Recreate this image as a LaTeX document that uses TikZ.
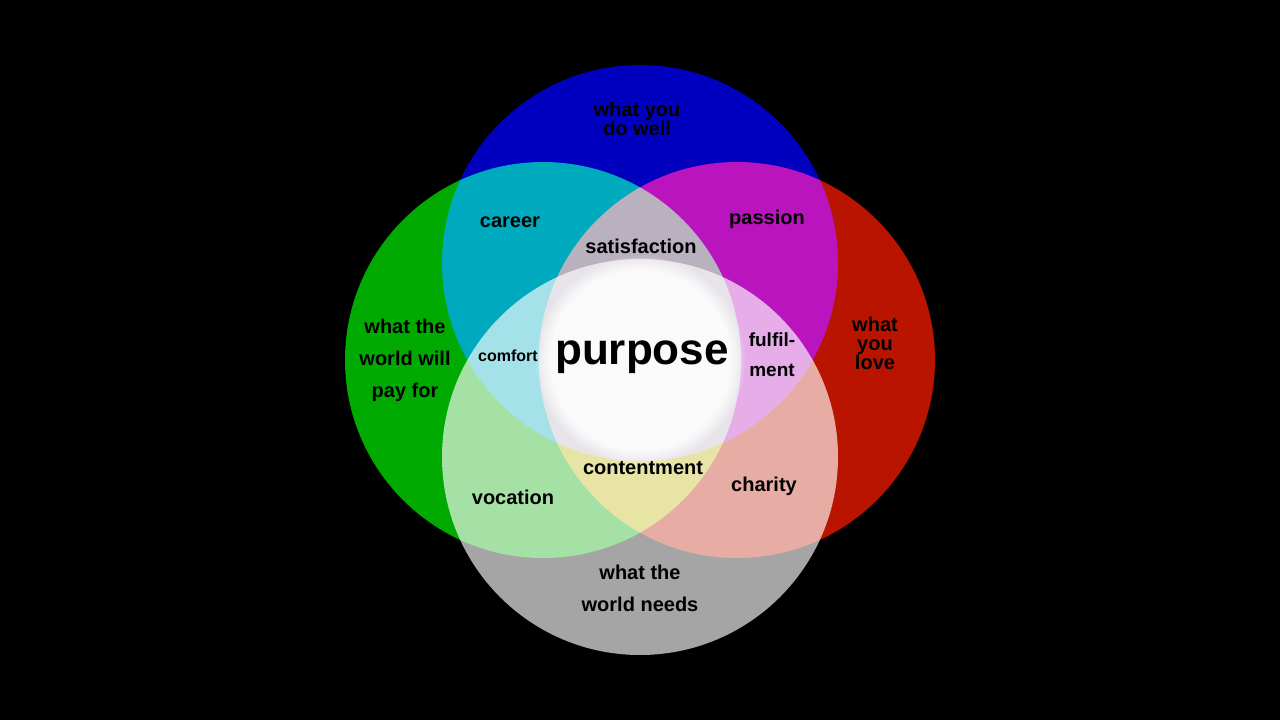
\documentclass[tikz,border=0pt]{standalone}
\usepackage{fontspec}
\setmainfont{Liberation Sans}
\usetikzlibrary{fadings}
\begin{document}
\begin{tikzpicture}[x=1pt,y=-1pt,
  lab/.style={font=\bfseries\fontsize{20}{32}\selectfont,align=center,text=black},
  tight/.style={font=\bfseries\fontsize{20}{19}\selectfont,align=center,text=black}]
\definecolor{cb}{RGB}{0,0,190}
\definecolor{cg}{RGB}{0,170,0}
\definecolor{cr}{RGB}{185,20,0}
\definecolor{cw}{RGB}{165,165,165}
\fill[black] (0,0) rectangle (1280,720);
\useasboundingbox (0,0) rectangle (1280,720);
\begin{scope}[blend group=screen]
\fill[cb] (640,263) circle (198);
\fill[cg] (543,360) circle (198);
\fill[cr] (737,360) circle (198);
\fill[cw] (640,457) circle (198);
\end{scope}
\fill[white,path fading=circle with fuzzy edge 15 percent,opacity=0.85] (640,360) circle (105);
\node[tight] (t1) at (637,119) {what you\\do well};
\node[lab] (t2) at (510,222) {career};
\node[lab] (t3) at (641,246) {satisfaction};
\node[lab] (t4) at (767,219) {passion};
\node[lab] (t5) at (405,360) {what the\\world will\\pay for};
\node[font=\bfseries\fontsize{16}{18}\selectfont,text=black] (t6) at (508,356) {comfort};
\node[font=\bfseries\fontsize{44}{48}\selectfont,text=black] (t7) at (642,357) {purpose};
\node[lab,font=\bfseries\fontsize{19}{30}\selectfont] (t8) at (772,355) {fulfil-\\ment};
\node[tight] (t9) at (875,343) {what\\you\\love};
\node[lab] (t10) at (643,468) {contentment};
\node[lab] (t11) at (513,497) {vocation};
\node[lab] (t12) at (764,486) {charity};
\node[lab] (t13) at (640,588) {what the\\world needs};
\end{tikzpicture}
\end{document}
